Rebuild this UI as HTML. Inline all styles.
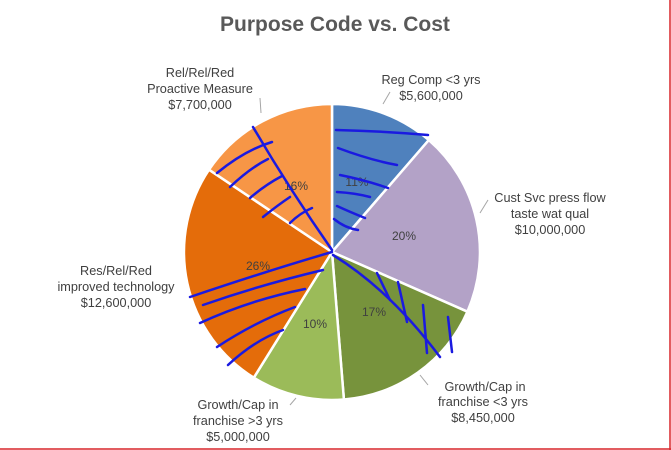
<!DOCTYPE html>
<html><head><style>
html,body{margin:0;padding:0;background:#fff;}
body{width:671px;height:450px;position:relative;overflow:hidden;font-family:"Liberation Sans",Arial,sans-serif;}
</style></head><body>
<svg width="671" height="450" xmlns="http://www.w3.org/2000/svg" style="position:absolute;left:0;top:0">
<rect x="0" y="0" width="671" height="450" fill="#fff"/>
<line x1="670" y1="0" x2="670" y2="450" stroke="#d9262b" stroke-width="1.5"/>
<line x1="0" y1="449" x2="671" y2="449" stroke="#d9262b" stroke-width="1.5"/>
<text x="335" y="31" text-anchor="middle" font-size="21" font-weight="bold" fill="#595959">Purpose Code vs. Cost</text>
<g stroke="#fff" stroke-width="2.5" stroke-linejoin="round">
<path d="M332,252 L332,104 A148,148 0 0 1 428.8,140.1 Z" fill="#4f81bd"/>
<path d="M332,252 L428.8,140.1 A148,148 0 0 1 467.4,311.7 Z" fill="#b3a2c7"/>
<path d="M332,252 L467.4,311.7 A148,148 0 0 1 343.9,399.5 Z" fill="#77933c"/>
<path d="M332,252 L343.9,399.5 A148,148 0 0 1 253.8,377.7 Z" fill="#9bbb59"/>
<path d="M332,252 L253.8,377.7 A148,148 0 0 1 209.0,169.7 Z" fill="#e46c0a"/>
<path d="M332,252 L209.0,169.7 A148,148 0 0 1 332,104 Z" fill="#f79646"/>
</g>
<g font-size="12" fill="#404040" text-anchor="middle">
<text x="357" y="186">11%</text>
<text x="404" y="240">20%</text>
<text x="374" y="316">17%</text>
<text x="315" y="328">10%</text>
<text x="258" y="270">26%</text>
<text x="296" y="190">16%</text>
</g>
<g font-size="12.7" fill="#404040" text-anchor="middle">
<text x="431" y="84">Reg Comp &lt;3 yrs</text>
<text x="431" y="100">$5,600,000</text>
<text x="550" y="202">Cust Svc press flow</text>
<text x="550" y="218">taste wat qual</text>
<text x="550" y="234">$10,000,000</text>
<text x="485" y="391">Growth/Cap in</text>
<text x="483" y="406">franchise &lt;3 yrs</text>
<text x="483" y="422">$8,450,000</text>
<text x="238" y="409">Growth/Cap in</text>
<text x="238" y="425">franchise &gt;3 yrs</text>
<text x="238" y="441">$5,000,000</text>
<text x="116" y="275">Res/Rel/Red</text>
<text x="116" y="291">improved technology</text>
<text x="116" y="307">$12,600,000</text>
<text x="200" y="77">Rel/Rel/Red</text>
<text x="200" y="93">Proactive Measure</text>
<text x="200" y="109">$7,700,000</text>
</g>
<g stroke="#a6a6a6" stroke-width="1" fill="none">
<path d="M383,104 L390,92"/>
<path d="M480,213 L488,200"/>
<path d="M420,375 L428,385"/>
<path d="M296,398 L290,405"/>
<path d="M260,98 L261,113"/>
</g>
<g stroke="#1a1ae0" stroke-width="2.5" fill="none" stroke-linecap="round">
<path d="M336,130 Q380,131 428,135"/>
<path d="M338,148 Q370,160 397,165"/>
<path d="M340,175 Q365,180 388,188"/>
<path d="M337,192 Q355,193 370,197"/>
<path d="M337,206 Q350,212 365,218"/>
<path d="M334,219 Q345,228 358,230"/>
<path d="M253,127 Q290,190 332,250"/>
<path d="M217,173 Q245,150 272,142"/>
<path d="M230,187 Q250,168 268,159"/>
<path d="M250,198 Q265,185 282,176"/>
<path d="M263,217 Q278,205 290,197"/>
<path d="M290,223 Q300,213 312,208"/>
<path d="M190,297 Q270,270 332,252"/>
<path d="M203,305 Q260,285 323,270"/>
<path d="M200,323 Q250,300 305,289"/>
<path d="M217,347 Q255,322 295,307"/>
<path d="M228,365 Q255,340 283,330"/>
<path d="M333,255 Q390,290 440,357"/>
<path d="M377,273 L390,300"/>
<path d="M398,282 Q402,300 407,322"/>
<path d="M423,305 Q425,330 427,353"/>
<path d="M448,317 L452,352"/>
</g>
</svg>
</body></html>
